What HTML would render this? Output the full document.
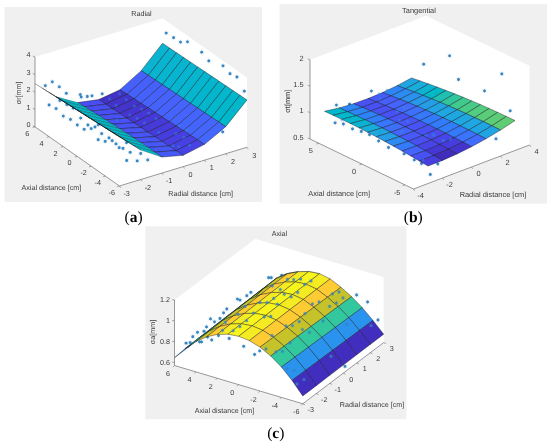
<!DOCTYPE html>
<html><head><meta charset="utf-8"><title>Figure</title>
<style>html,body{margin:0;padding:0;background:#fff}svg{display:block}text{text-rendering:geometricPrecision}</style></head>
<body>
<svg width="550" height="443" viewBox="0 0 550 443" font-family="Liberation Sans, Arial, sans-serif">
<defs><filter id="soft" x="0" y="0" width="100%" height="100%" color-interpolation-filters="sRGB"><feGaussianBlur stdDeviation="0.35"/></filter></defs>
<g filter="url(#soft)">
<rect x="-5" y="-5" width="560" height="453" fill="#fff"/>
<rect x="4.5" y="7" width="257.5" height="195" fill="#f0f0f0"/>
<rect x="279.6" y="4" width="267.4" height="199.6" fill="#f0f0f0"/>
<rect x="145.3" y="226.3" width="261.1" height="192.9" fill="#f0f0f0"/>
<polygon points="35,57 35,126.8 119.48,185.96 246.98,147.26 246.98,77.46 162.5,18.3" fill="#fff"/>
<g opacity="1"><path d="M45.3 83.7L45.3 87.7M47.03 84.7L43.57 86.7M47.03 86.7L43.57 84.7M52.3 79.8L52.3 83.8M54.03 80.8L50.57 82.8M54.03 82.8L50.57 80.8M59.3 84.8L59.3 88.8M61.03 85.8L57.57 87.8M61.03 87.8L57.57 85.8M66.3 91.3L66.3 95.3M68.03 92.3L64.57 94.3M68.03 94.3L64.57 92.3M80.3 92.6L80.3 96.6M82.03 93.6L78.57 95.6M82.03 95.6L78.57 93.6M81.2 95.1L81.2 99.1M82.93 96.1L79.47 98.1M82.93 98.1L79.47 96.1M87.3 94.5L87.3 98.5M89.03 95.5L85.57 97.5M89.03 97.5L85.57 95.5M92 93.8L92 97.8M93.73 94.8L90.27 96.8M93.73 96.8L90.27 94.8M102.2 91.8L102.2 95.8M103.93 92.8L100.47 94.8M103.93 94.8L100.47 92.8M49.1 103L49.1 107M50.83 104L47.37 106M50.83 106L47.37 104M56.1 106.6L56.1 110.6M57.83 107.6L54.37 109.6M57.83 109.6L54.37 107.6M59.9 98.5L59.9 102.5M61.63 99.5L58.17 101.5M61.63 101.5L58.17 99.5M66.9 102.6L66.9 106.6M68.63 103.6L65.17 105.6M68.63 105.6L65.17 103.6M73.3 106.2L73.3 110.2M75.03 107.2L71.57 109.2M75.03 109.2L71.57 107.2M63.3 114.1L63.3 118.1M65.03 115.1L61.57 117.1M65.03 117.1L61.57 115.1M70.5 117.4L70.5 121.4M72.23 118.4L68.77 120.4M72.23 120.4L68.77 118.4M80.7 116.1L80.7 120.1M82.43 117.1L78.97 119.1M82.43 119.1L78.97 117.1M77.3 123L77.3 127M79.03 124L75.57 126M79.03 126L75.57 124M87.9 123L87.9 127M89.63 124L86.17 126M89.63 126L86.17 124M84.2 127.3L84.2 131.3M85.93 128.3L82.47 130.3M85.93 130.3L82.47 128.3M91.2 126.6L91.2 130.6M92.93 127.6L89.47 129.6M92.93 129.6L89.47 127.6M95 125L95 129M96.73 126L93.27 128M96.73 128L93.27 126M98.2 122.8L98.2 126.8M99.93 123.8L96.47 125.8M99.93 125.8L96.47 123.8M101.7 131.7L101.7 135.7M103.43 132.7L99.97 134.7M103.43 134.7L99.97 132.7M98.2 137.7L98.2 141.7M99.93 138.7L96.47 140.7M99.93 140.7L96.47 138.7M105.2 139.4L105.2 143.4M106.93 140.4L103.47 142.4M106.93 142.4L103.47 140.4M109 135.9L109 139.9M110.73 136.9L107.27 138.9M110.73 138.9L107.27 136.9M112.2 138.7L112.2 142.7M113.93 139.7L110.47 141.7M113.93 141.7L110.47 139.7M116 141.9L116 145.9M117.73 142.9L114.27 144.9M117.73 144.9L114.27 142.9M119.2 145.7L119.2 149.7M120.93 146.7L117.47 148.7M120.93 148.7L117.47 146.7M123 146.4L123 150.4M124.73 147.4L121.27 149.4M124.73 149.4L121.27 147.4M130.2 150.3L130.2 154.3M131.93 151.3L128.47 153.3M131.93 153.3L128.47 151.3M126.7 158.5L126.7 162.5M128.43 159.5L124.97 161.5M128.43 161.5L124.97 159.5M137.2 158.9L137.2 162.9M138.93 159.9L135.47 161.9M138.93 161.9L135.47 159.9M147.7 157.9L147.7 161.9M149.43 158.9L145.97 160.9M149.43 160.9L145.97 158.9M140.7 151.5L140.7 155.5M142.43 152.5L138.97 154.5M142.43 154.5L138.97 152.5M126.5 140.7L126.5 144.7M128.23 141.7L124.77 143.7M128.23 143.7L124.77 141.7M166.2 31.1L166.2 35.1M167.93 32.1L164.47 34.1M167.93 34.1L164.47 32.1M173.6 35.7L173.6 39.7M175.33 36.7L171.87 38.7M175.33 38.7L171.87 36.7M180.5 40.1L180.5 44.1M182.23 41.1L178.77 43.1M182.23 43.1L178.77 41.1M187.5 39.8L187.5 43.8M189.23 40.8L185.77 42.8M189.23 42.8L185.77 40.8M201.7 50.2L201.7 54.2M203.43 51.2L199.97 53.2M203.43 53.2L199.97 51.2M208.8 58.9L208.8 62.9M210.53 59.9L207.07 61.9M210.53 61.9L207.07 59.9M223 63.8L223 67.8M224.73 64.8L221.27 66.8M224.73 66.8L221.27 64.8M230 71.7L230 75.7M231.73 72.7L228.27 74.7M231.73 74.7L228.27 72.7M236.9 75L236.9 79M238.63 76L235.17 78M238.63 78L235.17 76M244.3 89.2L244.3 93.2M246.03 90.2L242.57 92.2M246.03 92.2L242.57 90.2M222.7 129.9L222.7 133.9M224.43 130.9L220.97 132.9M224.43 132.9L220.97 130.9" stroke="#3583bf" stroke-width="0.7" fill="none" stroke-linecap="round" opacity="0.42"/><g fill="#3583bf"><circle cx="45.3" cy="85.7" r="1.4"/><circle cx="52.3" cy="81.8" r="1.4"/><circle cx="59.3" cy="86.8" r="1.4"/><circle cx="66.3" cy="93.3" r="1.4"/><circle cx="80.3" cy="94.6" r="1.4"/><circle cx="81.2" cy="97.1" r="1.4"/><circle cx="87.3" cy="96.5" r="1.4"/><circle cx="92" cy="95.8" r="1.4"/><circle cx="102.2" cy="93.8" r="1.4"/><circle cx="49.1" cy="105" r="1.4"/><circle cx="56.1" cy="108.6" r="1.4"/><circle cx="59.9" cy="100.5" r="1.4"/><circle cx="66.9" cy="104.6" r="1.4"/><circle cx="73.3" cy="108.2" r="1.4"/><circle cx="63.3" cy="116.1" r="1.4"/><circle cx="70.5" cy="119.4" r="1.4"/><circle cx="80.7" cy="118.1" r="1.4"/><circle cx="77.3" cy="125" r="1.4"/><circle cx="87.9" cy="125" r="1.4"/><circle cx="84.2" cy="129.3" r="1.4"/><circle cx="91.2" cy="128.6" r="1.4"/><circle cx="95" cy="127" r="1.4"/><circle cx="98.2" cy="124.8" r="1.4"/><circle cx="101.7" cy="133.7" r="1.4"/><circle cx="98.2" cy="139.7" r="1.4"/><circle cx="105.2" cy="141.4" r="1.4"/><circle cx="109" cy="137.9" r="1.4"/><circle cx="112.2" cy="140.7" r="1.4"/><circle cx="116" cy="143.9" r="1.4"/><circle cx="119.2" cy="147.7" r="1.4"/><circle cx="123" cy="148.4" r="1.4"/><circle cx="130.2" cy="152.3" r="1.4"/><circle cx="126.7" cy="160.5" r="1.4"/><circle cx="137.2" cy="160.9" r="1.4"/><circle cx="147.7" cy="159.9" r="1.4"/><circle cx="140.7" cy="153.5" r="1.4"/><circle cx="126.5" cy="142.7" r="1.4"/><circle cx="166.2" cy="33.1" r="1.4"/><circle cx="173.6" cy="37.7" r="1.4"/><circle cx="180.5" cy="42.1" r="1.4"/><circle cx="187.5" cy="41.8" r="1.4"/><circle cx="201.7" cy="52.2" r="1.4"/><circle cx="208.8" cy="60.9" r="1.4"/><circle cx="223" cy="65.8" r="1.4"/><circle cx="230" cy="73.7" r="1.4"/><circle cx="236.9" cy="77" r="1.4"/><circle cx="244.3" cy="91.2" r="1.4"/><circle cx="222.7" cy="131.9" r="1.4"/></g></g>
<g>
<polygon points="148.29,75.31 141.25,70.64 162.5,43.25 169.54,47.98" fill="#0ab4d1" stroke="#0a0a14" stroke-width="0.45" stroke-opacity="0.88" stroke-linejoin="round"/>
<polygon points="127.04,94.22 120,89.66 141.25,70.64 148.29,75.31" fill="#4660fb" stroke="#0a0a14" stroke-width="0.45" stroke-opacity="0.88" stroke-linejoin="round"/>
<polygon points="105.79,104.24 98.75,99.6 120,89.66 127.04,94.22" fill="#4331c7" stroke="#0a0a14" stroke-width="0.45" stroke-opacity="0.88" stroke-linejoin="round"/>
<polygon points="84.54,106.77 77.5,102.56 98.75,99.6 105.79,104.24" fill="#484ef1" stroke="#0a0a14" stroke-width="0.45" stroke-opacity="0.88" stroke-linejoin="round"/>
<polygon points="63.29,101.23 56.25,96.79 77.5,102.56 84.54,106.77" fill="#01b9c6" stroke="#0a0a14" stroke-width="0.3" stroke-opacity="0.88" stroke-linejoin="round"/>
<polygon points="42.04,88.05 35,83.61 56.25,96.79 63.29,101.23" fill="#1a2a2a" stroke="#0a0a14" stroke-width="0.2" stroke-opacity="0.88" stroke-linejoin="round"/>
<polygon points="155.33,79.98 148.29,75.31 169.54,47.98 176.58,52.71" fill="#09b4d1" stroke="#0a0a14" stroke-width="0.45" stroke-opacity="0.88" stroke-linejoin="round"/>
<polygon points="134.08,98.78 127.04,94.22 148.29,75.31 155.33,79.98" fill="#4660fc" stroke="#0a0a14" stroke-width="0.45" stroke-opacity="0.88" stroke-linejoin="round"/>
<polygon points="112.83,108.88 105.79,104.24 127.04,94.22 134.08,98.78" fill="#4332cb" stroke="#0a0a14" stroke-width="0.45" stroke-opacity="0.88" stroke-linejoin="round"/>
<polygon points="91.58,111.05 84.54,106.77 105.79,104.24 112.83,108.88" fill="#484ff2" stroke="#0a0a14" stroke-width="0.45" stroke-opacity="0.88" stroke-linejoin="round"/>
<polygon points="70.33,105.66 63.29,101.23 84.54,106.77 91.58,111.05" fill="#01b9c6" stroke="#0a0a14" stroke-width="0.3" stroke-opacity="0.88" stroke-linejoin="round"/>
<polygon points="49.08,92.48 42.04,88.05 63.29,101.23 70.33,105.66" fill="#1a2a2a" stroke="#0a0a14" stroke-width="0.2" stroke-opacity="0.88" stroke-linejoin="round"/>
<polygon points="162.37,84.65 155.33,79.98 176.58,52.71 183.62,57.43" fill="#08b5d0" stroke="#0a0a14" stroke-width="0.45" stroke-opacity="0.88" stroke-linejoin="round"/>
<polygon points="141.12,103.34 134.08,98.78 155.33,79.98 162.37,84.65" fill="#4561fc" stroke="#0a0a14" stroke-width="0.45" stroke-opacity="0.88" stroke-linejoin="round"/>
<polygon points="119.87,113.52 112.83,108.88 134.08,98.78 141.12,103.34" fill="#4434ce" stroke="#0a0a14" stroke-width="0.45" stroke-opacity="0.88" stroke-linejoin="round"/>
<polygon points="98.62,115.38 91.58,111.05 112.83,108.88 119.87,113.52" fill="#4850f3" stroke="#0a0a14" stroke-width="0.45" stroke-opacity="0.88" stroke-linejoin="round"/>
<polygon points="77.37,110.1 70.33,105.66 91.58,111.05 98.62,115.38" fill="#01b9c6" stroke="#0a0a14" stroke-width="0.3" stroke-opacity="0.88" stroke-linejoin="round"/>
<polygon points="56.12,96.92 49.08,92.48 70.33,105.66 77.37,110.1" fill="#1a2a2a" stroke="#0a0a14" stroke-width="0.2" stroke-opacity="0.88" stroke-linejoin="round"/>
<polygon points="169.41,89.32 162.37,84.65 183.62,57.43 190.66,62.16" fill="#07b5d0" stroke="#0a0a14" stroke-width="0.45" stroke-opacity="0.88" stroke-linejoin="round"/>
<polygon points="148.16,107.89 141.12,103.34 162.37,84.65 169.41,89.32" fill="#4562fc" stroke="#0a0a14" stroke-width="0.45" stroke-opacity="0.88" stroke-linejoin="round"/>
<polygon points="126.91,118.15 119.87,113.52 141.12,103.34 148.16,107.89" fill="#4435d1" stroke="#0a0a14" stroke-width="0.45" stroke-opacity="0.88" stroke-linejoin="round"/>
<polygon points="105.66,119.78 98.62,115.38 119.87,113.52 126.91,118.15" fill="#4851f3" stroke="#0a0a14" stroke-width="0.45" stroke-opacity="0.88" stroke-linejoin="round"/>
<polygon points="84.41,114.53 77.37,110.1 98.62,115.38 105.66,119.78" fill="#01b9c6" stroke="#0a0a14" stroke-width="0.3" stroke-opacity="0.88" stroke-linejoin="round"/>
<polygon points="63.16,101.35 56.12,96.92 77.37,110.1 84.41,114.53" fill="#1a2a2a" stroke="#0a0a14" stroke-width="0.2" stroke-opacity="0.88" stroke-linejoin="round"/>
<polygon points="176.45,93.98 169.41,89.32 190.66,62.16 197.7,66.89" fill="#06b5cf" stroke="#0a0a14" stroke-width="0.45" stroke-opacity="0.88" stroke-linejoin="round"/>
<polygon points="155.2,112.45 148.16,107.89 169.41,89.32 176.45,93.98" fill="#4562fc" stroke="#0a0a14" stroke-width="0.45" stroke-opacity="0.88" stroke-linejoin="round"/>
<polygon points="133.95,122.79 126.91,118.15 148.16,107.89 155.2,112.45" fill="#4536d5" stroke="#0a0a14" stroke-width="0.45" stroke-opacity="0.88" stroke-linejoin="round"/>
<polygon points="112.7,124.23 105.66,119.78 126.91,118.15 133.95,122.79" fill="#4852f4" stroke="#0a0a14" stroke-width="0.45" stroke-opacity="0.88" stroke-linejoin="round"/>
<polygon points="91.45,118.97 84.41,114.53 105.66,119.78 112.7,124.23" fill="#01b9c6" stroke="#0a0a14" stroke-width="0.3" stroke-opacity="0.88" stroke-linejoin="round"/>
<polygon points="70.2,105.79 63.16,101.35 84.41,114.53 91.45,118.97" fill="#1a2a2a" stroke="#0a0a14" stroke-width="0.2" stroke-opacity="0.88" stroke-linejoin="round"/>
<polygon points="183.49,98.65 176.45,93.98 197.7,66.89 204.74,71.61" fill="#06b6ce" stroke="#0a0a14" stroke-width="0.45" stroke-opacity="0.88" stroke-linejoin="round"/>
<polygon points="162.24,117.01 155.2,112.45 176.45,93.98 183.49,98.65" fill="#4563fc" stroke="#0a0a14" stroke-width="0.45" stroke-opacity="0.88" stroke-linejoin="round"/>
<polygon points="140.99,127.43 133.95,122.79 155.2,112.45 162.24,117.01" fill="#4538d8" stroke="#0a0a14" stroke-width="0.45" stroke-opacity="0.88" stroke-linejoin="round"/>
<polygon points="119.74,128.73 112.7,124.23 133.95,122.79 140.99,127.43" fill="#4853f4" stroke="#0a0a14" stroke-width="0.45" stroke-opacity="0.88" stroke-linejoin="round"/>
<polygon points="98.49,123.41 91.45,118.97 112.7,124.23 119.74,128.73" fill="#01b9c6" stroke="#0a0a14" stroke-width="0.3" stroke-opacity="0.88" stroke-linejoin="round"/>
<polygon points="77.24,110.22 70.2,105.79 91.45,118.97 98.49,123.41" fill="#1a2a2a" stroke="#0a0a14" stroke-width="0.2" stroke-opacity="0.88" stroke-linejoin="round"/>
<polygon points="190.53,103.32 183.49,98.65 204.74,71.61 211.78,76.34" fill="#05b6ce" stroke="#0a0a14" stroke-width="0.45" stroke-opacity="0.88" stroke-linejoin="round"/>
<polygon points="169.28,121.57 162.24,117.01 183.49,98.65 190.53,103.32" fill="#4563fd" stroke="#0a0a14" stroke-width="0.45" stroke-opacity="0.88" stroke-linejoin="round"/>
<polygon points="148.03,132.07 140.99,127.43 162.24,117.01 169.28,121.57" fill="#463ada" stroke="#0a0a14" stroke-width="0.45" stroke-opacity="0.88" stroke-linejoin="round"/>
<polygon points="126.78,133.3 119.74,128.73 140.99,127.43 148.03,132.07" fill="#4854f5" stroke="#0a0a14" stroke-width="0.45" stroke-opacity="0.88" stroke-linejoin="round"/>
<polygon points="105.53,127.84 98.49,123.41 119.74,128.73 126.78,133.3" fill="#01b9c6" stroke="#0a0a14" stroke-width="0.3" stroke-opacity="0.88" stroke-linejoin="round"/>
<polygon points="84.28,114.66 77.24,110.22 98.49,123.41 105.53,127.84" fill="#1a2a2a" stroke="#0a0a14" stroke-width="0.2" stroke-opacity="0.88" stroke-linejoin="round"/>
<polygon points="197.57,107.99 190.53,103.32 211.78,76.34 218.82,81.06" fill="#04b6cd" stroke="#0a0a14" stroke-width="0.45" stroke-opacity="0.88" stroke-linejoin="round"/>
<polygon points="176.32,126.13 169.28,121.57 190.53,103.32 197.57,107.99" fill="#4564fd" stroke="#0a0a14" stroke-width="0.45" stroke-opacity="0.88" stroke-linejoin="round"/>
<polygon points="155.07,136.71 148.03,132.07 169.28,121.57 176.32,126.13" fill="#463bdd" stroke="#0a0a14" stroke-width="0.45" stroke-opacity="0.88" stroke-linejoin="round"/>
<polygon points="133.82,137.93 126.78,133.3 148.03,132.07 155.07,136.71" fill="#4854f6" stroke="#0a0a14" stroke-width="0.45" stroke-opacity="0.88" stroke-linejoin="round"/>
<polygon points="112.57,132.28 105.53,127.84 126.78,133.3 133.82,137.93" fill="#01b9c6" stroke="#0a0a14" stroke-width="0.3" stroke-opacity="0.88" stroke-linejoin="round"/>
<polygon points="91.32,119.1 84.28,114.66 105.53,127.84 112.57,132.28" fill="#1a2a2a" stroke="#0a0a14" stroke-width="0.2" stroke-opacity="0.88" stroke-linejoin="round"/>
<polygon points="204.61,112.66 197.57,107.99 218.82,81.06 225.86,85.79" fill="#03b6cc" stroke="#0a0a14" stroke-width="0.45" stroke-opacity="0.88" stroke-linejoin="round"/>
<polygon points="183.36,130.69 176.32,126.13 197.57,107.99 204.61,112.66" fill="#4465fd" stroke="#0a0a14" stroke-width="0.45" stroke-opacity="0.88" stroke-linejoin="round"/>
<polygon points="162.11,141.35 155.07,136.71 176.32,126.13 183.36,130.69" fill="#463de0" stroke="#0a0a14" stroke-width="0.45" stroke-opacity="0.88" stroke-linejoin="round"/>
<polygon points="140.86,142.61 133.82,137.93 155.07,136.71 162.11,141.35" fill="#4755f6" stroke="#0a0a14" stroke-width="0.45" stroke-opacity="0.88" stroke-linejoin="round"/>
<polygon points="119.61,136.71 112.57,132.28 133.82,137.93 140.86,142.61" fill="#01b9c6" stroke="#0a0a14" stroke-width="0.3" stroke-opacity="0.88" stroke-linejoin="round"/>
<polygon points="98.36,123.53 91.32,119.1 112.57,132.28 119.61,136.71" fill="#1a2a2a" stroke="#0a0a14" stroke-width="0.2" stroke-opacity="0.88" stroke-linejoin="round"/>
<polygon points="211.65,117.33 204.61,112.66 225.86,85.79 232.9,90.52" fill="#03b7cc" stroke="#0a0a14" stroke-width="0.45" stroke-opacity="0.88" stroke-linejoin="round"/>
<polygon points="190.4,135.25 183.36,130.69 204.61,112.66 211.65,117.33" fill="#4465fd" stroke="#0a0a14" stroke-width="0.45" stroke-opacity="0.88" stroke-linejoin="round"/>
<polygon points="169.15,145.99 162.11,141.35 183.36,130.69 190.4,135.25" fill="#473fe2" stroke="#0a0a14" stroke-width="0.45" stroke-opacity="0.88" stroke-linejoin="round"/>
<polygon points="147.9,147.35 140.86,142.61 162.11,141.35 169.15,145.99" fill="#4756f7" stroke="#0a0a14" stroke-width="0.45" stroke-opacity="0.88" stroke-linejoin="round"/>
<polygon points="126.65,141.15 119.61,136.71 140.86,142.61 147.9,147.35" fill="#01b9c6" stroke="#0a0a14" stroke-width="0.3" stroke-opacity="0.88" stroke-linejoin="round"/>
<polygon points="105.4,127.97 98.36,123.53 119.61,136.71 126.65,141.15" fill="#1a2a2a" stroke="#0a0a14" stroke-width="0.2" stroke-opacity="0.88" stroke-linejoin="round"/>
<polygon points="218.69,121.99 211.65,117.33 232.9,90.52 239.94,95.24" fill="#02b7cb" stroke="#0a0a14" stroke-width="0.45" stroke-opacity="0.88" stroke-linejoin="round"/>
<polygon points="197.44,139.81 190.4,135.25 211.65,117.33 218.69,121.99" fill="#4466fd" stroke="#0a0a14" stroke-width="0.45" stroke-opacity="0.88" stroke-linejoin="round"/>
<polygon points="176.19,150.63 169.15,145.99 190.4,135.25 197.44,139.81" fill="#4740e4" stroke="#0a0a14" stroke-width="0.45" stroke-opacity="0.88" stroke-linejoin="round"/>
<polygon points="154.94,152.15 147.9,147.35 169.15,145.99 176.19,150.63" fill="#4757f7" stroke="#0a0a14" stroke-width="0.45" stroke-opacity="0.88" stroke-linejoin="round"/>
<polygon points="133.69,145.58 126.65,141.15 147.9,147.35 154.94,152.15" fill="#01b9c6" stroke="#0a0a14" stroke-width="0.3" stroke-opacity="0.88" stroke-linejoin="round"/>
<polygon points="112.44,132.4 105.4,127.97 126.65,141.15 133.69,145.58" fill="#1a2a2a" stroke="#0a0a14" stroke-width="0.2" stroke-opacity="0.88" stroke-linejoin="round"/>
<polygon points="225.73,126.66 218.69,121.99 239.94,95.24 246.98,99.97" fill="#01b7ca" stroke="#0a0a14" stroke-width="0.45" stroke-opacity="0.88" stroke-linejoin="round"/>
<polygon points="204.48,144.37 197.44,139.81 218.69,121.99 225.73,126.66" fill="#4366fd" stroke="#0a0a14" stroke-width="0.45" stroke-opacity="0.88" stroke-linejoin="round"/>
<polygon points="183.23,155.27 176.19,150.63 197.44,139.81 204.48,144.37" fill="#4742e6" stroke="#0a0a14" stroke-width="0.45" stroke-opacity="0.88" stroke-linejoin="round"/>
<polygon points="161.98,157.01 154.94,152.15 176.19,150.63 183.23,155.27" fill="#4758f8" stroke="#0a0a14" stroke-width="0.45" stroke-opacity="0.88" stroke-linejoin="round"/>
<polygon points="140.73,150.02 133.69,145.58 154.94,152.15 161.98,157.01" fill="#01b9c6" stroke="#0a0a14" stroke-width="0.3" stroke-opacity="0.88" stroke-linejoin="round"/>
<polygon points="119.48,136.84 112.44,132.4 133.69,145.58 140.73,150.02" fill="#1a2a2a" stroke="#0a0a14" stroke-width="0.2" stroke-opacity="0.88" stroke-linejoin="round"/>
</g>
<g opacity="0.45"><path d="M109.5 96.9L109.5 100.9M111.23 97.9L107.77 99.9M111.23 99.9L107.77 97.9M119.6 91.8L119.6 95.8M121.33 92.8L117.87 94.8M121.33 94.8L117.87 92.8M126.2 97.6L126.2 101.6M127.93 98.6L124.47 100.6M127.93 100.6L124.47 98.6M116 103.5L116 107.5M117.73 104.5L114.27 106.5M117.73 106.5L114.27 104.5M134.2 104.2L134.2 108.2M135.93 105.2L132.47 107.2M135.93 107.2L132.47 105.2M141.5 107.1L141.5 111.1M143.23 108.1L139.77 110.1M143.23 110.1L139.77 108.1M148.7 111.2L148.7 115.2M150.43 112.2L146.97 114.2M150.43 114.2L146.97 112.2M129.8 112.9L129.8 116.9M131.53 113.9L128.07 115.9M131.53 115.9L128.07 113.9M137.1 116.5L137.1 120.5M138.83 117.5L135.37 119.5M138.83 119.5L135.37 117.5M156 116.5L156 120.5M157.73 117.5L154.27 119.5M157.73 119.5L154.27 117.5M144.4 120.9L144.4 124.9M146.13 121.9L142.67 123.9M146.13 123.9L142.67 121.9M158.9 130.4L158.9 134.4M160.63 131.4L157.17 133.4M160.63 133.4L157.17 131.4M116.7 118L116.7 122M118.43 119L114.97 121M118.43 121L114.97 119M232.8 108.4L232.8 112.4M234.53 109.4L231.07 111.4M234.53 111.4L231.07 109.4M179.9 123.6L179.9 127.6M181.63 124.6L178.17 126.6M181.63 126.6L178.17 124.6M186.7 128L186.7 132M188.43 129L184.97 131M188.43 131L184.97 129M175.8 131.6L175.8 135.6M177.53 132.6L174.07 134.6M177.53 134.6L174.07 132.6M183.8 135.3L183.8 139.3M185.53 136.3L182.07 138.3M185.53 138.3L182.07 136.3M189.6 143.3L189.6 147.3M191.33 144.3L187.87 146.3M191.33 146.3L187.87 144.3M178.7 144.7L178.7 148.7M180.43 145.7L176.97 147.7M180.43 147.7L176.97 145.7M172.9 144L172.9 148M174.63 145L171.17 147M174.63 147L171.17 145" stroke="#2f8fd8" stroke-width="0.7" fill="none" stroke-linecap="round" opacity="0.3"/><g fill="#2f8fd8"><circle cx="109.5" cy="98.9" r="1.4"/><circle cx="119.6" cy="93.8" r="1.4"/><circle cx="126.2" cy="99.6" r="1.4"/><circle cx="116" cy="105.5" r="1.4"/><circle cx="134.2" cy="106.2" r="1.4"/><circle cx="141.5" cy="109.1" r="1.4"/><circle cx="148.7" cy="113.2" r="1.4"/><circle cx="129.8" cy="114.9" r="1.4"/><circle cx="137.1" cy="118.5" r="1.4"/><circle cx="156" cy="118.5" r="1.4"/><circle cx="144.4" cy="122.9" r="1.4"/><circle cx="158.9" cy="132.4" r="1.4"/><circle cx="116.7" cy="120" r="1.4"/><circle cx="232.8" cy="110.4" r="1.4"/><circle cx="179.9" cy="125.6" r="1.4"/><circle cx="186.7" cy="130" r="1.4"/><circle cx="175.8" cy="133.6" r="1.4"/><circle cx="183.8" cy="137.3" r="1.4"/><circle cx="189.6" cy="145.3" r="1.4"/><circle cx="178.7" cy="146.7" r="1.4"/><circle cx="172.9" cy="146" r="1.4"/></g></g>
<line x1="35" y1="57" x2="35" y2="126.8" stroke="#6e6e6e" stroke-width="0.7"/>
<line x1="35" y1="126.8" x2="119.48" y2="185.96" stroke="#6e6e6e" stroke-width="0.7"/>
<line x1="119.48" y1="185.96" x2="246.98" y2="147.26" stroke="#6e6e6e" stroke-width="0.7"/>
<line x1="35" y1="126.8" x2="32.8" y2="125.8" stroke="#6e6e6e" stroke-width="0.6"/>
<text x="30.5" y="127.1" font-size="7.2" text-anchor="end" fill="#3a3a3a" >0</text>
<line x1="35" y1="109.35" x2="32.8" y2="108.35" stroke="#6e6e6e" stroke-width="0.6"/>
<text x="30.5" y="109.65" font-size="7.2" text-anchor="end" fill="#3a3a3a" >1</text>
<line x1="35" y1="91.9" x2="32.8" y2="90.9" stroke="#6e6e6e" stroke-width="0.6"/>
<text x="30.5" y="92.2" font-size="7.2" text-anchor="end" fill="#3a3a3a" >2</text>
<line x1="35" y1="74.45" x2="32.8" y2="73.45" stroke="#6e6e6e" stroke-width="0.6"/>
<text x="30.5" y="74.75" font-size="7.2" text-anchor="end" fill="#3a3a3a" >3</text>
<line x1="35" y1="57" x2="32.8" y2="56" stroke="#6e6e6e" stroke-width="0.6"/>
<text x="30.5" y="57.3" font-size="7.2" text-anchor="end" fill="#3a3a3a" >4</text>
<line x1="119.48" y1="185.96" x2="117.18" y2="186.66" stroke="#6e6e6e" stroke-width="0.6"/>
<text x="111.78" y="194.96" font-size="7.2" text-anchor="middle" fill="#3a3a3a" >-6</text>
<line x1="105.4" y1="176.1" x2="103.1" y2="176.8" stroke="#6e6e6e" stroke-width="0.6"/>
<text x="97.7" y="185.1" font-size="7.2" text-anchor="middle" fill="#3a3a3a" >-4</text>
<line x1="91.32" y1="166.24" x2="89.02" y2="166.94" stroke="#6e6e6e" stroke-width="0.6"/>
<text x="83.62" y="175.24" font-size="7.2" text-anchor="middle" fill="#3a3a3a" >-2</text>
<line x1="77.24" y1="156.38" x2="74.94" y2="157.08" stroke="#6e6e6e" stroke-width="0.6"/>
<text x="69.54" y="165.38" font-size="7.2" text-anchor="middle" fill="#3a3a3a" >0</text>
<line x1="63.16" y1="146.52" x2="60.86" y2="147.22" stroke="#6e6e6e" stroke-width="0.6"/>
<text x="55.46" y="155.52" font-size="7.2" text-anchor="middle" fill="#3a3a3a" >2</text>
<line x1="49.08" y1="136.66" x2="46.78" y2="137.36" stroke="#6e6e6e" stroke-width="0.6"/>
<text x="41.38" y="145.66" font-size="7.2" text-anchor="middle" fill="#3a3a3a" >4</text>
<line x1="35" y1="126.8" x2="32.7" y2="127.5" stroke="#6e6e6e" stroke-width="0.6"/>
<text x="27.3" y="135.8" font-size="7.2" text-anchor="middle" fill="#3a3a3a" >6</text>
<line x1="119.48" y1="185.96" x2="120.78" y2="187.76" stroke="#6e6e6e" stroke-width="0.6"/>
<text x="126.68" y="196.26" font-size="7.2" text-anchor="middle" fill="#3a3a3a" >-3</text>
<line x1="140.73" y1="179.51" x2="142.03" y2="181.31" stroke="#6e6e6e" stroke-width="0.6"/>
<text x="147.93" y="189.81" font-size="7.2" text-anchor="middle" fill="#3a3a3a" >-2</text>
<line x1="161.98" y1="173.06" x2="163.28" y2="174.86" stroke="#6e6e6e" stroke-width="0.6"/>
<text x="169.18" y="183.36" font-size="7.2" text-anchor="middle" fill="#3a3a3a" >-1</text>
<line x1="183.23" y1="166.61" x2="184.53" y2="168.41" stroke="#6e6e6e" stroke-width="0.6"/>
<text x="190.43" y="176.91" font-size="7.2" text-anchor="middle" fill="#3a3a3a" >0</text>
<line x1="204.48" y1="160.16" x2="205.78" y2="161.96" stroke="#6e6e6e" stroke-width="0.6"/>
<text x="211.68" y="170.46" font-size="7.2" text-anchor="middle" fill="#3a3a3a" >1</text>
<line x1="225.73" y1="153.71" x2="227.03" y2="155.51" stroke="#6e6e6e" stroke-width="0.6"/>
<text x="232.93" y="164.01" font-size="7.2" text-anchor="middle" fill="#3a3a3a" >2</text>
<line x1="246.98" y1="147.26" x2="248.28" y2="149.06" stroke="#6e6e6e" stroke-width="0.6"/>
<text x="254.18" y="157.56" font-size="7.2" text-anchor="middle" fill="#3a3a3a" >3</text>
<text x="141.5" y="15.6" font-size="7.2" text-anchor="middle" fill="#3a3a3a" >Radial</text>
<text x="51.4" y="190.4" font-size="7.2" text-anchor="middle" fill="#3a3a3a" >Axial distance [cm]</text>
<text x="200.7" y="195.6" font-size="7.2" text-anchor="middle" fill="#3a3a3a" >Radial distance [cm]</text>
<text x="21.4" y="92.8" font-size="7.2" text-anchor="middle" fill="#3a3a3a" transform="rotate(-90 21.4 92.8)" >σr[mm]</text>
<polygon points="310,59.8 310,139 413.5,189 529.5,145 529.5,65.8 426,15.8" fill="#fff"/>
<g opacity="1"><path d="M371.4 89.1L371.4 93.1M373.13 90.1L369.67 92.1M373.13 92.1L369.67 90.1M336.4 103.1L336.4 107.1M338.13 104.1L334.67 106.1M338.13 106.1L334.67 104.1M349.6 102.2L349.6 106.2M351.33 103.2L347.87 105.2M351.33 105.2L347.87 103.2M335.1 120.8L335.1 124.8M336.83 121.8L333.37 123.8M336.83 123.8L333.37 121.8M343.4 122L343.4 126M345.13 123L341.67 125M345.13 125L341.67 123M352.5 126.9L352.5 130.9M354.23 127.9L350.77 129.9M354.23 129.9L350.77 127.9M361.3 129.5L361.3 133.5M363.03 130.5L359.57 132.5M363.03 132.5L359.57 130.5M369.5 132.7L369.5 136.7M371.23 133.7L367.77 135.7M371.23 135.7L367.77 133.7M378.6 139L378.6 143M380.33 140L376.87 142M380.33 142L376.87 140M388.5 145.5L388.5 149.5M390.23 146.5L386.77 148.5M390.23 148.5L386.77 146.5M404.1 151.8L404.1 155.8M405.83 152.8L402.37 154.8M405.83 154.8L402.37 152.8M414.3 157.9L414.3 161.9M416.03 158.9L412.57 160.9M416.03 160.9L412.57 158.9M421.5 161.5L421.5 165.5M423.23 162.5L419.77 164.5M423.23 164.5L419.77 162.5M437.8 162L437.8 166M439.53 163L436.07 165M439.53 165L436.07 163M430.3 172.5L430.3 176.5M432.03 173.5L428.57 175.5M432.03 175.5L428.57 173.5M423.7 62.2L423.7 66.2M425.43 63.2L421.97 65.2M425.43 65.2L421.97 63.2M449.6 53.8L449.6 57.8M451.33 54.8L447.87 56.8M451.33 56.8L447.87 54.8M458.5 77.5L458.5 81.5M460.23 78.5L456.77 80.5M460.23 80.5L456.77 78.5M484.5 88.9L484.5 92.9M486.23 89.9L482.77 91.9M486.23 91.9L482.77 89.9M501.8 71.9L501.8 75.9M503.53 72.9L500.07 74.9M503.53 74.9L500.07 72.9M510.2 108.8L510.2 112.8M511.93 109.8L508.47 111.8M511.93 111.8L508.47 109.8M496 136.8L496 140.8M497.73 137.8L494.27 139.8M497.73 139.8L494.27 137.8" stroke="#3583bf" stroke-width="0.7" fill="none" stroke-linecap="round" opacity="0.42"/><g fill="#3583bf"><circle cx="371.4" cy="91.1" r="1.4"/><circle cx="336.4" cy="105.1" r="1.4"/><circle cx="349.6" cy="104.2" r="1.4"/><circle cx="335.1" cy="122.8" r="1.4"/><circle cx="343.4" cy="124" r="1.4"/><circle cx="352.5" cy="128.9" r="1.4"/><circle cx="361.3" cy="131.5" r="1.4"/><circle cx="369.5" cy="134.7" r="1.4"/><circle cx="378.6" cy="141" r="1.4"/><circle cx="388.5" cy="147.5" r="1.4"/><circle cx="404.1" cy="153.8" r="1.4"/><circle cx="414.3" cy="159.9" r="1.4"/><circle cx="421.5" cy="163.5" r="1.4"/><circle cx="437.8" cy="164" r="1.4"/><circle cx="430.3" cy="174.5" r="1.4"/><circle cx="423.7" cy="64.2" r="1.4"/><circle cx="449.6" cy="55.8" r="1.4"/><circle cx="458.5" cy="79.5" r="1.4"/><circle cx="484.5" cy="90.9" r="1.4"/><circle cx="501.8" cy="73.9" r="1.4"/><circle cx="510.2" cy="110.8" r="1.4"/><circle cx="496" cy="138.8" r="1.4"/></g></g>
<polygon points="405.62,88.79 397,85.68 411.5,77.91 420.12,80.88" fill="#1fa5e2" stroke="#0a0a14" stroke-width="0.45" stroke-opacity="0.88" stroke-linejoin="round"/>
<polygon points="391.12,95.84 382.5,92.57 397,85.68 405.62,88.79" fill="#2e85f8" stroke="#0a0a14" stroke-width="0.45" stroke-opacity="0.88" stroke-linejoin="round"/>
<polygon points="376.62,102.01 368,98.57 382.5,92.57 391.12,95.84" fill="#475bf9" stroke="#0a0a14" stroke-width="0.45" stroke-opacity="0.88" stroke-linejoin="round"/>
<polygon points="362.12,107.3 353.5,103.7 368,98.57 376.62,102.01" fill="#4851f4" stroke="#0a0a14" stroke-width="0.45" stroke-opacity="0.88" stroke-linejoin="round"/>
<polygon points="347.62,111.72 339,107.93 353.5,103.7 362.12,107.3" fill="#2e87f7" stroke="#0a0a14" stroke-width="0.45" stroke-opacity="0.88" stroke-linejoin="round"/>
<polygon points="333.12,115.27 324.5,111.29 339,107.93 347.62,111.72" fill="#02b7cb" stroke="#0a0a14" stroke-width="0.45" stroke-opacity="0.88" stroke-linejoin="round"/>
<polygon points="414.25,92.02 405.62,88.79 420.12,80.88 428.75,83.96" fill="#19addc" stroke="#0a0a14" stroke-width="0.45" stroke-opacity="0.88" stroke-linejoin="round"/>
<polygon points="399.75,99.21 391.12,95.84 405.62,88.79 414.25,92.02" fill="#2d8cf3" stroke="#0a0a14" stroke-width="0.45" stroke-opacity="0.88" stroke-linejoin="round"/>
<polygon points="385.25,105.54 376.62,102.01 391.12,95.84 399.75,99.21" fill="#465ffb" stroke="#0a0a14" stroke-width="0.45" stroke-opacity="0.88" stroke-linejoin="round"/>
<polygon points="370.75,111.01 362.12,107.3 376.62,102.01 385.25,105.54" fill="#4851f4" stroke="#0a0a14" stroke-width="0.45" stroke-opacity="0.88" stroke-linejoin="round"/>
<polygon points="356.25,115.62 347.62,111.72 362.12,107.3 370.75,111.01" fill="#2e85f8" stroke="#0a0a14" stroke-width="0.45" stroke-opacity="0.88" stroke-linejoin="round"/>
<polygon points="341.75,119.36 333.12,115.27 347.62,111.72 356.25,115.62" fill="#03b7cc" stroke="#0a0a14" stroke-width="0.45" stroke-opacity="0.88" stroke-linejoin="round"/>
<polygon points="422.88,95.34 414.25,92.02 428.75,83.96 437.38,87.14" fill="#0cb3d3" stroke="#0a0a14" stroke-width="0.45" stroke-opacity="0.88" stroke-linejoin="round"/>
<polygon points="408.38,102.69 399.75,99.21 414.25,92.02 422.88,95.34" fill="#2a92ee" stroke="#0a0a14" stroke-width="0.45" stroke-opacity="0.88" stroke-linejoin="round"/>
<polygon points="393.88,109.19 385.25,105.54 399.75,99.21 408.38,102.69" fill="#4464fd" stroke="#0a0a14" stroke-width="0.45" stroke-opacity="0.88" stroke-linejoin="round"/>
<polygon points="379.38,114.83 370.75,111.01 385.25,105.54 393.88,109.19" fill="#4851f4" stroke="#0a0a14" stroke-width="0.45" stroke-opacity="0.88" stroke-linejoin="round"/>
<polygon points="364.88,119.62 356.25,115.62 370.75,111.01 379.38,114.83" fill="#2e83f9" stroke="#0a0a14" stroke-width="0.45" stroke-opacity="0.88" stroke-linejoin="round"/>
<polygon points="350.38,123.56 341.75,119.36 356.25,115.62 364.88,119.62" fill="#05b6cd" stroke="#0a0a14" stroke-width="0.45" stroke-opacity="0.88" stroke-linejoin="round"/>
<polygon points="431.5,98.77 422.88,95.34 437.38,87.14 446,90.43" fill="#01bac5" stroke="#0a0a14" stroke-width="0.45" stroke-opacity="0.88" stroke-linejoin="round"/>
<polygon points="417,106.28 408.38,102.69 422.88,95.34 431.5,98.77" fill="#2699ea" stroke="#0a0a14" stroke-width="0.45" stroke-opacity="0.88" stroke-linejoin="round"/>
<polygon points="402.5,112.94 393.88,109.19 408.38,102.69 417,106.28" fill="#426afe" stroke="#0a0a14" stroke-width="0.45" stroke-opacity="0.88" stroke-linejoin="round"/>
<polygon points="388,118.75 379.38,114.83 393.88,109.19 402.5,112.94" fill="#4852f4" stroke="#0a0a14" stroke-width="0.45" stroke-opacity="0.88" stroke-linejoin="round"/>
<polygon points="373.5,123.73 364.88,119.62 379.38,114.83 388,118.75" fill="#317efb" stroke="#0a0a14" stroke-width="0.45" stroke-opacity="0.88" stroke-linejoin="round"/>
<polygon points="359,127.87 350.38,123.56 364.88,119.62 373.5,123.73" fill="#0bb3d2" stroke="#0a0a14" stroke-width="0.45" stroke-opacity="0.88" stroke-linejoin="round"/>
<polygon points="440.12,102.31 431.5,98.77 446,90.43 454.62,93.83" fill="#1ec0b2" stroke="#0a0a14" stroke-width="0.45" stroke-opacity="0.88" stroke-linejoin="round"/>
<polygon points="425.62,109.97 417,106.28 431.5,98.77 440.12,102.31" fill="#249fe6" stroke="#0a0a14" stroke-width="0.45" stroke-opacity="0.88" stroke-linejoin="round"/>
<polygon points="411.12,116.79 402.5,112.94 417,106.28 425.62,109.97" fill="#3d70ff" stroke="#0a0a14" stroke-width="0.45" stroke-opacity="0.88" stroke-linejoin="round"/>
<polygon points="396.62,122.78 388,118.75 402.5,112.94 411.12,116.79" fill="#4853f5" stroke="#0a0a14" stroke-width="0.45" stroke-opacity="0.88" stroke-linejoin="round"/>
<polygon points="382.12,127.94 373.5,123.73 388,118.75 396.62,122.78" fill="#3876fe" stroke="#0a0a14" stroke-width="0.45" stroke-opacity="0.88" stroke-linejoin="round"/>
<polygon points="367.62,132.27 359,127.87 373.5,123.73 382.12,127.94" fill="#17aeda" stroke="#0a0a14" stroke-width="0.45" stroke-opacity="0.88" stroke-linejoin="round"/>
<polygon points="448.75,105.95 440.12,102.31 454.62,93.83 463.25,97.33" fill="#32c69e" stroke="#0a0a14" stroke-width="0.45" stroke-opacity="0.88" stroke-linejoin="round"/>
<polygon points="434.25,113.76 425.62,109.97 440.12,102.31 448.75,105.95" fill="#20a4e3" stroke="#0a0a14" stroke-width="0.45" stroke-opacity="0.88" stroke-linejoin="round"/>
<polygon points="419.75,120.75 411.12,116.79 425.62,109.97 434.25,113.76" fill="#3777fe" stroke="#0a0a14" stroke-width="0.45" stroke-opacity="0.88" stroke-linejoin="round"/>
<polygon points="405.25,126.92 396.62,122.78 411.12,116.79 419.75,120.75" fill="#4854f5" stroke="#0a0a14" stroke-width="0.45" stroke-opacity="0.88" stroke-linejoin="round"/>
<polygon points="390.75,132.26 382.12,127.94 396.62,122.78 405.25,126.92" fill="#3f6eff" stroke="#0a0a14" stroke-width="0.45" stroke-opacity="0.88" stroke-linejoin="round"/>
<polygon points="376.25,136.79 367.62,132.27 382.12,127.94 390.75,132.26" fill="#1ea8e0" stroke="#0a0a14" stroke-width="0.45" stroke-opacity="0.88" stroke-linejoin="round"/>
<polygon points="457.38,109.7 448.75,105.95 463.25,97.33 471.88,100.93" fill="#3fca8e" stroke="#0a0a14" stroke-width="0.45" stroke-opacity="0.88" stroke-linejoin="round"/>
<polygon points="442.88,117.66 434.25,113.76 448.75,105.95 457.38,109.7" fill="#1ea7e1" stroke="#0a0a14" stroke-width="0.45" stroke-opacity="0.88" stroke-linejoin="round"/>
<polygon points="428.38,124.82 419.75,120.75 434.25,113.76 442.88,117.66" fill="#337bfd" stroke="#0a0a14" stroke-width="0.45" stroke-opacity="0.88" stroke-linejoin="round"/>
<polygon points="413.88,131.16 405.25,126.92 419.75,120.75 428.38,124.82" fill="#4853f5" stroke="#0a0a14" stroke-width="0.45" stroke-opacity="0.88" stroke-linejoin="round"/>
<polygon points="399.38,136.69 390.75,132.26 405.25,126.92 413.88,131.16" fill="#4465fd" stroke="#0a0a14" stroke-width="0.45" stroke-opacity="0.88" stroke-linejoin="round"/>
<polygon points="384.88,141.41 376.25,136.79 390.75,132.26 399.38,136.69" fill="#259de7" stroke="#0a0a14" stroke-width="0.45" stroke-opacity="0.88" stroke-linejoin="round"/>
<polygon points="466,113.56 457.38,109.7 471.88,100.93 480.5,104.64" fill="#48cb86" stroke="#0a0a14" stroke-width="0.45" stroke-opacity="0.88" stroke-linejoin="round"/>
<polygon points="451.5,121.67 442.88,117.66 457.38,109.7 466,113.56" fill="#1ea7e1" stroke="#0a0a14" stroke-width="0.45" stroke-opacity="0.88" stroke-linejoin="round"/>
<polygon points="437,128.99 428.38,124.82 442.88,117.66 451.5,121.67" fill="#327cfc" stroke="#0a0a14" stroke-width="0.45" stroke-opacity="0.88" stroke-linejoin="round"/>
<polygon points="422.5,135.5 413.88,131.16 428.38,124.82 437,128.99" fill="#4850f2" stroke="#0a0a14" stroke-width="0.45" stroke-opacity="0.88" stroke-linejoin="round"/>
<polygon points="408,141.22 399.38,136.69 413.88,131.16 422.5,135.5" fill="#475af9" stroke="#0a0a14" stroke-width="0.45" stroke-opacity="0.88" stroke-linejoin="round"/>
<polygon points="393.5,146.13 384.88,141.41 399.38,136.69 408,141.22" fill="#2d8cf3" stroke="#0a0a14" stroke-width="0.45" stroke-opacity="0.88" stroke-linejoin="round"/>
<polygon points="474.62,117.52 466,113.56 480.5,104.64 489.12,108.46" fill="#52cc7e" stroke="#0a0a14" stroke-width="0.45" stroke-opacity="0.88" stroke-linejoin="round"/>
<polygon points="460.12,125.79 451.5,121.67 466,113.56 474.62,117.52" fill="#1ea7e1" stroke="#0a0a14" stroke-width="0.45" stroke-opacity="0.88" stroke-linejoin="round"/>
<polygon points="445.62,133.26 437,128.99 451.5,121.67 460.12,125.79" fill="#317dfc" stroke="#0a0a14" stroke-width="0.45" stroke-opacity="0.88" stroke-linejoin="round"/>
<polygon points="431.12,139.95 422.5,135.5 437,128.99 445.62,133.26" fill="#484cef" stroke="#0a0a14" stroke-width="0.45" stroke-opacity="0.88" stroke-linejoin="round"/>
<polygon points="416.62,145.85 408,141.22 422.5,135.5 431.12,139.95" fill="#4850f2" stroke="#0a0a14" stroke-width="0.45" stroke-opacity="0.88" stroke-linejoin="round"/>
<polygon points="402.12,150.97 393.5,146.13 408,141.22 416.62,145.85" fill="#3579fd" stroke="#0a0a14" stroke-width="0.45" stroke-opacity="0.88" stroke-linejoin="round"/>
<polygon points="483.25,121.58 474.62,117.52 489.12,108.46 497.75,112.38" fill="#59cc78" stroke="#0a0a14" stroke-width="0.45" stroke-opacity="0.88" stroke-linejoin="round"/>
<polygon points="468.75,130 460.12,125.79 474.62,117.52 483.25,121.58" fill="#1ea7e1" stroke="#0a0a14" stroke-width="0.45" stroke-opacity="0.88" stroke-linejoin="round"/>
<polygon points="454.25,137.65 445.62,133.26 460.12,125.79 468.75,130" fill="#347afd" stroke="#0a0a14" stroke-width="0.45" stroke-opacity="0.88" stroke-linejoin="round"/>
<polygon points="439.75,144.51 431.12,139.95 445.62,133.26 454.25,137.65" fill="#4745e9" stroke="#0a0a14" stroke-width="0.45" stroke-opacity="0.88" stroke-linejoin="round"/>
<polygon points="425.25,150.6 416.62,145.85 431.12,139.95 439.75,144.51" fill="#4744e8" stroke="#0a0a14" stroke-width="0.45" stroke-opacity="0.88" stroke-linejoin="round"/>
<polygon points="410.75,155.9 402.12,150.97 416.62,145.85 425.25,150.6" fill="#4464fd" stroke="#0a0a14" stroke-width="0.45" stroke-opacity="0.88" stroke-linejoin="round"/>
<polygon points="491.88,125.75 483.25,121.58 497.75,112.38 506.38,116.41" fill="#5ccc76" stroke="#0a0a14" stroke-width="0.45" stroke-opacity="0.88" stroke-linejoin="round"/>
<polygon points="477.38,134.33 468.75,130 483.25,121.58 491.88,125.75" fill="#1fa6e2" stroke="#0a0a14" stroke-width="0.45" stroke-opacity="0.88" stroke-linejoin="round"/>
<polygon points="462.88,142.13 454.25,137.65 468.75,130 477.38,134.33" fill="#3b72ff" stroke="#0a0a14" stroke-width="0.45" stroke-opacity="0.88" stroke-linejoin="round"/>
<polygon points="448.38,149.17 439.75,144.51 454.25,137.65 462.88,142.13" fill="#463cde" stroke="#0a0a14" stroke-width="0.45" stroke-opacity="0.88" stroke-linejoin="round"/>
<polygon points="433.88,155.44 425.25,150.6 439.75,144.51 448.38,149.17" fill="#4537d6" stroke="#0a0a14" stroke-width="0.45" stroke-opacity="0.88" stroke-linejoin="round"/>
<polygon points="419.38,160.95 410.75,155.9 425.25,150.6 433.88,155.44" fill="#4851f4" stroke="#0a0a14" stroke-width="0.45" stroke-opacity="0.88" stroke-linejoin="round"/>
<polygon points="500.5,130.03 491.88,125.75 506.38,116.41 515,120.55" fill="#5ecd74" stroke="#0a0a14" stroke-width="0.45" stroke-opacity="0.88" stroke-linejoin="round"/>
<polygon points="486,138.76 477.38,134.33 491.88,125.75 500.5,130.03" fill="#20a5e2" stroke="#0a0a14" stroke-width="0.45" stroke-opacity="0.88" stroke-linejoin="round"/>
<polygon points="471.5,146.73 462.88,142.13 477.38,134.33 486,138.76" fill="#416bfe" stroke="#0a0a14" stroke-width="0.45" stroke-opacity="0.88" stroke-linejoin="round"/>
<polygon points="457,153.94 448.38,149.17 462.88,142.13 471.5,146.73" fill="#4434cf" stroke="#0a0a14" stroke-width="0.45" stroke-opacity="0.88" stroke-linejoin="round"/>
<polygon points="442.5,160.4 433.88,155.44 448.38,149.17 457,153.94" fill="#412dbd" stroke="#0a0a14" stroke-width="0.45" stroke-opacity="0.88" stroke-linejoin="round"/>
<polygon points="428,166.09 419.38,160.95 433.88,155.44 442.5,160.4" fill="#473ee1" stroke="#0a0a14" stroke-width="0.45" stroke-opacity="0.88" stroke-linejoin="round"/>
<g opacity="0.45"><path d="M341.9 117.9L341.9 121.9M343.63 118.9L340.17 120.9M343.63 120.9L340.17 118.9M379 92L379 96M380.73 93L377.27 95M380.73 95L377.27 93M401.9 129.5L401.9 133.5M403.63 130.5L400.17 132.5M403.63 132.5L400.17 130.5M425.9 133.2L425.9 137.2M427.63 134.2L424.17 136.2M427.63 136.2L424.17 134.2M433.9 133.2L433.9 137.2M435.63 134.2L432.17 136.2M435.63 136.2L432.17 134.2M443.4 139L443.4 143M445.13 140L441.67 142M445.13 142L441.67 140M450.6 137.5L450.6 141.5M452.33 138.5L448.87 140.5M452.33 140.5L448.87 138.5M406.3 143.4L406.3 147.4M408.03 144.4L404.57 146.4M408.03 146.4L404.57 144.4M423 157.9L423 161.9M424.73 158.9L421.27 160.9M424.73 160.9L421.27 158.9M422.9 105.4L422.9 109.4M424.63 106.4L421.17 108.4M424.63 108.4L421.17 106.4M429.3 105.4L429.3 109.4M431.03 106.4L427.57 108.4M431.03 108.4L427.57 106.4M421.6 114.4L421.6 118.4M423.33 115.4L419.87 117.4M423.33 117.4L419.87 115.4M443.3 138.5L443.3 142.5M445.03 139.5L441.57 141.5M445.03 141.5L441.57 139.5M467.4 134.2L467.4 138.2M469.13 135.2L465.67 137.2M469.13 137.2L465.67 135.2M433.1 132.7L433.1 136.7M434.83 133.7L431.37 135.7M434.83 135.7L431.37 133.7M379.9 96.9L379.9 100.9M381.63 97.9L378.17 99.9M381.63 99.9L378.17 97.9M404.6 105.6L404.6 109.6M406.33 106.6L402.87 108.6M406.33 108.6L402.87 106.6M397.4 109.3L397.4 113.3M399.13 110.3L395.67 112.3M399.13 112.3L395.67 110.3M399.5 118.7L399.5 122.7M401.23 119.7L397.77 121.7M401.23 121.7L397.77 119.7M407.5 119.5L407.5 123.5M409.23 120.5L405.77 122.5M409.23 122.5L405.77 120.5M392.3 124.5L392.3 128.5M394.03 125.5L390.57 127.5M394.03 127.5L390.57 125.5M379.9 131.1L379.9 135.1M381.63 132.1L378.17 134.1M381.63 134.1L378.17 132.1M401 129.6L401 133.6M402.73 130.6L399.27 132.6M402.73 132.6L399.27 130.6M362.5 108.5L362.5 112.5M364.23 109.5L360.77 111.5M364.23 111.5L360.77 109.5M420.6 104.2L420.6 108.2M422.33 105.2L418.87 107.2M422.33 107.2L418.87 105.2M421.4 112.9L421.4 116.9M423.13 113.9L419.67 115.9M423.13 115.9L419.67 113.9M387.2 88.2L387.2 92.2M388.93 89.2L385.47 91.2M388.93 91.2L385.47 89.2" stroke="#2f8fd8" stroke-width="0.7" fill="none" stroke-linecap="round" opacity="0.3"/><g fill="#2f8fd8"><circle cx="341.9" cy="119.9" r="1.4"/><circle cx="379" cy="94" r="1.4"/><circle cx="401.9" cy="131.5" r="1.4"/><circle cx="425.9" cy="135.2" r="1.4"/><circle cx="433.9" cy="135.2" r="1.4"/><circle cx="443.4" cy="141" r="1.4"/><circle cx="450.6" cy="139.5" r="1.4"/><circle cx="406.3" cy="145.4" r="1.4"/><circle cx="423" cy="159.9" r="1.4"/><circle cx="422.9" cy="107.4" r="1.4"/><circle cx="429.3" cy="107.4" r="1.4"/><circle cx="421.6" cy="116.4" r="1.4"/><circle cx="443.3" cy="140.5" r="1.4"/><circle cx="467.4" cy="136.2" r="1.4"/><circle cx="433.1" cy="134.7" r="1.4"/><circle cx="379.9" cy="98.9" r="1.4"/><circle cx="404.6" cy="107.6" r="1.4"/><circle cx="397.4" cy="111.3" r="1.4"/><circle cx="399.5" cy="120.7" r="1.4"/><circle cx="407.5" cy="121.5" r="1.4"/><circle cx="392.3" cy="126.5" r="1.4"/><circle cx="379.9" cy="133.1" r="1.4"/><circle cx="401" cy="131.6" r="1.4"/><circle cx="362.5" cy="110.5" r="1.4"/><circle cx="420.6" cy="106.2" r="1.4"/><circle cx="421.4" cy="114.9" r="1.4"/><circle cx="387.2" cy="90.2" r="1.4"/></g></g>
<line x1="310" y1="59.8" x2="310" y2="139" stroke="#6e6e6e" stroke-width="0.7"/>
<line x1="310" y1="139" x2="413.5" y2="189" stroke="#6e6e6e" stroke-width="0.7"/>
<line x1="413.5" y1="189" x2="529.5" y2="145" stroke="#6e6e6e" stroke-width="0.7"/>
<line x1="310" y1="139" x2="307.8" y2="138" stroke="#6e6e6e" stroke-width="0.6"/>
<text x="303.6" y="139.8" font-size="7.42" text-anchor="end" fill="#3a3a3a" >0.5</text>
<line x1="310" y1="112.6" x2="307.8" y2="111.6" stroke="#6e6e6e" stroke-width="0.6"/>
<text x="303.6" y="113.4" font-size="7.42" text-anchor="end" fill="#3a3a3a" >1</text>
<line x1="310" y1="86.2" x2="307.8" y2="85.2" stroke="#6e6e6e" stroke-width="0.6"/>
<text x="303.6" y="87" font-size="7.42" text-anchor="end" fill="#3a3a3a" >1.5</text>
<line x1="310" y1="59.8" x2="307.8" y2="58.8" stroke="#6e6e6e" stroke-width="0.6"/>
<text x="303.6" y="60.6" font-size="7.42" text-anchor="end" fill="#3a3a3a" >2</text>
<line x1="404.88" y1="184.84" x2="402.57" y2="185.74" stroke="#6e6e6e" stroke-width="0.6"/>
<text x="397.18" y="194.84" font-size="7.42" text-anchor="middle" fill="#3a3a3a" >-5</text>
<line x1="361.75" y1="164" x2="359.45" y2="164.9" stroke="#6e6e6e" stroke-width="0.6"/>
<text x="354.05" y="174" font-size="7.42" text-anchor="middle" fill="#3a3a3a" >0</text>
<line x1="318.62" y1="143.17" x2="316.32" y2="144.07" stroke="#6e6e6e" stroke-width="0.6"/>
<text x="310.93" y="153.17" font-size="7.42" text-anchor="middle" fill="#3a3a3a" >5</text>
<line x1="413.5" y1="189" x2="414.8" y2="190.8" stroke="#6e6e6e" stroke-width="0.6"/>
<text x="420.5" y="198.4" font-size="7.42" text-anchor="middle" fill="#3a3a3a" >-4</text>
<line x1="442.5" y1="178" x2="443.8" y2="179.8" stroke="#6e6e6e" stroke-width="0.6"/>
<text x="449.5" y="187.4" font-size="7.42" text-anchor="middle" fill="#3a3a3a" >-2</text>
<line x1="471.5" y1="167" x2="472.8" y2="168.8" stroke="#6e6e6e" stroke-width="0.6"/>
<text x="478.5" y="176.4" font-size="7.42" text-anchor="middle" fill="#3a3a3a" >0</text>
<line x1="500.5" y1="156" x2="501.8" y2="157.8" stroke="#6e6e6e" stroke-width="0.6"/>
<text x="507.5" y="165.4" font-size="7.42" text-anchor="middle" fill="#3a3a3a" >2</text>
<line x1="529.5" y1="145" x2="530.8" y2="146.8" stroke="#6e6e6e" stroke-width="0.6"/>
<text x="536.5" y="154.4" font-size="7.42" text-anchor="middle" fill="#3a3a3a" >4</text>
<text x="419" y="12.5" font-size="7.42" text-anchor="middle" fill="#3a3a3a" >Tangential</text>
<text x="339.2" y="196" font-size="7.42" text-anchor="middle" fill="#3a3a3a" >Axial distance [cm]</text>
<text x="493" y="197.3" font-size="7.42" text-anchor="middle" fill="#3a3a3a" >Radial distance [cm]</text>
<text x="290" y="101.2" font-size="7.42" text-anchor="middle" fill="#3a3a3a" transform="rotate(-90 290 101.2)" >σt[mm]</text>
<polygon points="174.5,299.96 174.5,365.5 302.78,403.78 383.66,342.58 383.66,277.04 255.38,238.76" fill="#fff"/>
<g opacity="1"><path d="M186.1 341.2L186.1 345.2M187.83 342.2L184.37 344.2M187.83 344.2L184.37 342.2M190.2 340.6L190.2 344.6M191.93 341.6L188.47 343.6M191.93 343.6L188.47 341.6M192.8 334.7L192.8 338.7M194.53 335.7L191.07 337.7M194.53 337.7L191.07 335.7M197.5 330.3L197.5 334.3M199.23 331.3L195.77 333.3M199.23 333.3L195.77 331.3M199.6 339.9L199.6 343.9M201.33 340.9L197.87 342.9M201.33 342.9L197.87 340.9M201.5 339.9L201.5 343.9M203.23 340.9L199.77 342.9M203.23 342.9L199.77 340.9M204 329.3L204 333.3M205.73 330.3L202.27 332.3M205.73 332.3L202.27 330.3M206.5 324.9L206.5 328.9M208.23 325.9L204.77 327.9M208.23 327.9L204.77 325.9M207.6 335.1L207.6 339.1M209.33 336.1L205.87 338.1M209.33 338.1L205.87 336.1M211.7 338L211.7 342M213.43 339L209.97 341M213.43 341L209.97 339M210.5 316.9L210.5 320.9M212.23 317.9L208.77 319.9M212.23 319.9L208.77 317.9M214.5 319.8L214.5 323.8M216.23 320.8L212.77 322.8M216.23 322.8L212.77 320.8M220 316.5L220 320.5M221.73 317.5L218.27 319.5M221.73 319.5L218.27 317.5M218.5 333.6L218.5 337.6M220.23 334.6L216.77 336.6M220.23 336.6L216.77 334.6M223.6 310.8L223.6 314.8M225.33 311.8L221.87 313.8M225.33 313.8L221.87 311.8M226.8 307L226.8 311M228.53 308L225.07 310M228.53 310L225.07 308M229.2 336.5L229.2 340.5M230.93 337.5L227.47 339.5M230.93 339.5L227.47 337.5M243.7 344.3L243.7 348.3M245.43 345.3L241.97 347.3M245.43 347.3L241.97 345.3M254.6 352.5L254.6 356.5M256.33 353.5L252.87 355.5M256.33 355.5L252.87 353.5M259.7 348.9L259.7 352.9M261.43 349.9L257.97 351.9M261.43 351.9L257.97 349.9M237.4 297.1L237.4 301.1M239.13 298.1L235.67 300.1M239.13 300.1L235.67 298.1M240 298.1L240 302.1M241.73 299.1L238.27 301.1M241.73 301.1L238.27 299.1M246.8 293.7L246.8 297.7M248.53 294.7L245.07 296.7M248.53 296.7L245.07 294.7M250.9 290.3L250.9 294.3M252.63 291.3L249.17 293.3M252.63 293.3L249.17 291.3M268.6 275.7L268.6 279.7M270.33 276.7L266.87 278.7M270.33 278.7L266.87 276.7M271.3 275.7L271.3 279.7M273.03 276.7L269.57 278.7M273.03 278.7L269.57 276.7M281.7 273.4L281.7 277.4M283.43 274.4L279.97 276.4M283.43 276.4L279.97 274.4M286.1 273.4L286.1 277.4M287.83 274.4L284.37 276.4M287.83 276.4L284.37 274.4M356.6 293L356.6 297M358.33 294L354.87 296M358.33 296L354.87 294M367.6 300L367.6 304M369.33 301L365.87 303M369.33 303L365.87 301M378 318L378 322M379.73 319L376.27 321M379.73 321L376.27 319M345 364.4L345 368.4M346.73 365.4L343.27 367.4M346.73 367.4L343.27 365.4" stroke="#3583bf" stroke-width="0.7" fill="none" stroke-linecap="round" opacity="0.42"/><g fill="#3583bf"><circle cx="186.1" cy="343.2" r="1.4"/><circle cx="190.2" cy="342.6" r="1.4"/><circle cx="192.8" cy="336.7" r="1.4"/><circle cx="197.5" cy="332.3" r="1.4"/><circle cx="199.6" cy="341.9" r="1.4"/><circle cx="201.5" cy="341.9" r="1.4"/><circle cx="204" cy="331.3" r="1.4"/><circle cx="206.5" cy="326.9" r="1.4"/><circle cx="207.6" cy="337.1" r="1.4"/><circle cx="211.7" cy="340" r="1.4"/><circle cx="210.5" cy="318.9" r="1.4"/><circle cx="214.5" cy="321.8" r="1.4"/><circle cx="220" cy="318.5" r="1.4"/><circle cx="218.5" cy="335.6" r="1.4"/><circle cx="223.6" cy="312.8" r="1.4"/><circle cx="226.8" cy="309" r="1.4"/><circle cx="229.2" cy="338.5" r="1.4"/><circle cx="243.7" cy="346.3" r="1.4"/><circle cx="254.6" cy="354.5" r="1.4"/><circle cx="259.7" cy="350.9" r="1.4"/><circle cx="237.4" cy="299.1" r="1.4"/><circle cx="240" cy="300.1" r="1.4"/><circle cx="246.8" cy="295.7" r="1.4"/><circle cx="250.9" cy="292.3" r="1.4"/><circle cx="268.6" cy="277.7" r="1.4"/><circle cx="271.3" cy="277.7" r="1.4"/><circle cx="281.7" cy="275.4" r="1.4"/><circle cx="286.1" cy="275.4" r="1.4"/><circle cx="356.6" cy="295" r="1.4"/><circle cx="367.6" cy="302" r="1.4"/><circle cx="378" cy="320" r="1.4"/><circle cx="345" cy="366.4" r="1.4"/></g></g>
<polygon points="252.59,296.61 241.9,306.66 255.38,296.46 266.07,286.23" fill="#2a93ee" stroke="#0a0a14" stroke-width="0.45" stroke-opacity="0.88" stroke-linejoin="round"/>
<polygon points="239.11,306.98 228.42,316.86 241.9,306.66 252.59,296.61" fill="#2a93ee" stroke="#0a0a14" stroke-width="0.45" stroke-opacity="0.88" stroke-linejoin="round"/>
<polygon points="225.63,317.35 214.94,327.06 228.42,316.86 239.11,306.98" fill="#2a93ee" stroke="#0a0a14" stroke-width="0.45" stroke-opacity="0.88" stroke-linejoin="round"/>
<polygon points="212.15,327.73 201.46,337.26 214.94,327.06 225.63,317.35" fill="#2a93ee" stroke="#0a0a14" stroke-width="0.45" stroke-opacity="0.88" stroke-linejoin="round"/>
<polygon points="198.67,338.1 187.98,347.46 201.46,337.26 212.15,327.73" fill="#2a93ee" stroke="#0a0a14" stroke-width="0.45" stroke-opacity="0.88" stroke-linejoin="round"/>
<polygon points="185.19,348.48 174.5,357.66 187.98,347.46 198.67,338.1" fill="#2a93ee" stroke="#0a0a14" stroke-width="0.45" stroke-opacity="0.88" stroke-linejoin="round"/>
<polygon points="263.28,288.63 252.59,296.61 266.07,286.23 276.76,278.04" fill="#33c79d" stroke="#0a0a14" stroke-width="0.45" stroke-opacity="0.88" stroke-linejoin="round"/>
<polygon points="249.8,299.21 239.11,306.98 252.59,296.61 263.28,288.63" fill="#33c79d" stroke="#0a0a14" stroke-width="0.45" stroke-opacity="0.88" stroke-linejoin="round"/>
<polygon points="236.32,309.79 225.63,317.35 239.11,306.98 249.8,299.21" fill="#33c79d" stroke="#0a0a14" stroke-width="0.45" stroke-opacity="0.88" stroke-linejoin="round"/>
<polygon points="222.84,320.37 212.15,327.73 225.63,317.35 236.32,309.79" fill="#33c79d" stroke="#0a0a14" stroke-width="0.45" stroke-opacity="0.88" stroke-linejoin="round"/>
<polygon points="209.36,330.95 198.67,338.1 212.15,327.73 222.84,320.37" fill="#33c79d" stroke="#0a0a14" stroke-width="0.45" stroke-opacity="0.88" stroke-linejoin="round"/>
<polygon points="195.88,341.54 185.19,348.48 198.67,338.1 209.36,330.95" fill="#33c79d" stroke="#0a0a14" stroke-width="0.45" stroke-opacity="0.88" stroke-linejoin="round"/>
<polygon points="273.97,284.11 263.28,288.63 276.76,278.04 287.45,273.57" fill="#c6c22a" stroke="#0a0a14" stroke-width="0.45" stroke-opacity="0.88" stroke-linejoin="round"/>
<polygon points="260.49,294.66 249.8,299.21 263.28,288.63 273.97,284.11" fill="#c6c22a" stroke="#0a0a14" stroke-width="0.45" stroke-opacity="0.88" stroke-linejoin="round"/>
<polygon points="247.01,305.21 236.32,309.79 249.8,299.21 260.49,294.66" fill="#c6c22a" stroke="#0a0a14" stroke-width="0.45" stroke-opacity="0.88" stroke-linejoin="round"/>
<polygon points="233.53,315.75 222.84,320.37 236.32,309.79 247.01,305.21" fill="#c6c22a" stroke="#0a0a14" stroke-width="0.45" stroke-opacity="0.88" stroke-linejoin="round"/>
<polygon points="220.05,326.3 209.36,330.95 222.84,320.37 233.53,315.75" fill="#c6c22a" stroke="#0a0a14" stroke-width="0.45" stroke-opacity="0.88" stroke-linejoin="round"/>
<polygon points="206.57,336.85 195.88,341.54 209.36,330.95 220.05,326.3" fill="#c6c22a" stroke="#0a0a14" stroke-width="0.45" stroke-opacity="0.88" stroke-linejoin="round"/>
<polygon points="284.66,282.11 273.97,284.11 287.45,273.57 298.14,271.65" fill="#fdcc32" stroke="#0a0a14" stroke-width="0.45" stroke-opacity="0.88" stroke-linejoin="round"/>
<polygon points="271.18,292.57 260.49,294.66 273.97,284.11 284.66,282.11" fill="#fdcc32" stroke="#0a0a14" stroke-width="0.45" stroke-opacity="0.88" stroke-linejoin="round"/>
<polygon points="257.7,303.03 247.01,305.21 260.49,294.66 271.18,292.57" fill="#fdcc32" stroke="#0a0a14" stroke-width="0.45" stroke-opacity="0.88" stroke-linejoin="round"/>
<polygon points="244.22,313.49 233.53,315.75 247.01,305.21 257.7,303.03" fill="#fdcc32" stroke="#0a0a14" stroke-width="0.45" stroke-opacity="0.88" stroke-linejoin="round"/>
<polygon points="230.74,323.95 220.05,326.3 233.53,315.75 244.22,313.49" fill="#fdcc32" stroke="#0a0a14" stroke-width="0.45" stroke-opacity="0.88" stroke-linejoin="round"/>
<polygon points="217.26,334.41 206.57,336.85 220.05,326.3 230.74,323.95" fill="#fdcc32" stroke="#0a0a14" stroke-width="0.45" stroke-opacity="0.88" stroke-linejoin="round"/>
<polygon points="295.35,281.92 284.66,282.11 298.14,271.65 308.83,271.46" fill="#f5eb23" stroke="#0a0a14" stroke-width="0.45" stroke-opacity="0.88" stroke-linejoin="round"/>
<polygon points="281.87,292.38 271.18,292.57 284.66,282.11 295.35,281.92" fill="#f5eb23" stroke="#0a0a14" stroke-width="0.45" stroke-opacity="0.88" stroke-linejoin="round"/>
<polygon points="268.39,302.85 257.7,303.03 271.18,292.57 281.87,292.38" fill="#f5eb23" stroke="#0a0a14" stroke-width="0.45" stroke-opacity="0.88" stroke-linejoin="round"/>
<polygon points="254.91,313.31 244.22,313.49 257.7,303.03 268.39,302.85" fill="#f5eb23" stroke="#0a0a14" stroke-width="0.45" stroke-opacity="0.88" stroke-linejoin="round"/>
<polygon points="241.43,323.77 230.74,323.95 244.22,313.49 254.91,313.31" fill="#f5eb23" stroke="#0a0a14" stroke-width="0.45" stroke-opacity="0.88" stroke-linejoin="round"/>
<polygon points="227.95,334.23 217.26,334.41 230.74,323.95 241.43,323.77" fill="#f5eb23" stroke="#0a0a14" stroke-width="0.45" stroke-opacity="0.88" stroke-linejoin="round"/>
<polygon points="306.04,284.08 295.35,281.92 308.83,271.46 319.52,273.63" fill="#f7f51b" stroke="#0a0a14" stroke-width="0.45" stroke-opacity="0.88" stroke-linejoin="round"/>
<polygon points="292.56,294.52 281.87,292.38 295.35,281.92 306.04,284.08" fill="#f7f51b" stroke="#0a0a14" stroke-width="0.45" stroke-opacity="0.88" stroke-linejoin="round"/>
<polygon points="279.08,304.96 268.39,302.85 281.87,292.38 292.56,294.52" fill="#f7f51b" stroke="#0a0a14" stroke-width="0.45" stroke-opacity="0.88" stroke-linejoin="round"/>
<polygon points="265.6,315.4 254.91,313.31 268.39,302.85 279.08,304.96" fill="#f7f51b" stroke="#0a0a14" stroke-width="0.45" stroke-opacity="0.88" stroke-linejoin="round"/>
<polygon points="252.12,325.85 241.43,323.77 254.91,313.31 265.6,315.4" fill="#f7f51b" stroke="#0a0a14" stroke-width="0.45" stroke-opacity="0.88" stroke-linejoin="round"/>
<polygon points="238.64,336.29 227.95,334.23 241.43,323.77 252.12,325.85" fill="#f7f51b" stroke="#0a0a14" stroke-width="0.45" stroke-opacity="0.88" stroke-linejoin="round"/>
<polygon points="316.73,289.17 306.04,284.08 319.52,273.63 330.21,278.89" fill="#f5eb23" stroke="#0a0a14" stroke-width="0.45" stroke-opacity="0.88" stroke-linejoin="round"/>
<polygon points="303.25,299.46 292.56,294.52 306.04,284.08 316.73,289.17" fill="#f5eb23" stroke="#0a0a14" stroke-width="0.45" stroke-opacity="0.88" stroke-linejoin="round"/>
<polygon points="289.77,309.75 279.08,304.96 292.56,294.52 303.25,299.46" fill="#f5eb23" stroke="#0a0a14" stroke-width="0.45" stroke-opacity="0.88" stroke-linejoin="round"/>
<polygon points="276.29,320.03 265.6,315.4 279.08,304.96 289.77,309.75" fill="#f5eb23" stroke="#0a0a14" stroke-width="0.45" stroke-opacity="0.88" stroke-linejoin="round"/>
<polygon points="262.81,330.32 252.12,325.85 265.6,315.4 276.29,320.03" fill="#f5eb23" stroke="#0a0a14" stroke-width="0.45" stroke-opacity="0.88" stroke-linejoin="round"/>
<polygon points="249.33,340.61 238.64,336.29 252.12,325.85 262.81,330.32" fill="#f5eb23" stroke="#0a0a14" stroke-width="0.45" stroke-opacity="0.88" stroke-linejoin="round"/>
<polygon points="327.42,297.21 316.73,289.17 330.21,278.89 340.9,287.22" fill="#fdcc32" stroke="#0a0a14" stroke-width="0.45" stroke-opacity="0.88" stroke-linejoin="round"/>
<polygon points="313.94,307.21 303.25,299.46 316.73,289.17 327.42,297.21" fill="#fdcc32" stroke="#0a0a14" stroke-width="0.45" stroke-opacity="0.88" stroke-linejoin="round"/>
<polygon points="300.46,317.2 289.77,309.75 303.25,299.46 313.94,307.21" fill="#fdcc32" stroke="#0a0a14" stroke-width="0.45" stroke-opacity="0.88" stroke-linejoin="round"/>
<polygon points="286.98,327.19 276.29,320.03 289.77,309.75 300.46,317.2" fill="#fdcc32" stroke="#0a0a14" stroke-width="0.45" stroke-opacity="0.88" stroke-linejoin="round"/>
<polygon points="273.5,337.18 262.81,330.32 276.29,320.03 286.98,327.19" fill="#fdcc32" stroke="#0a0a14" stroke-width="0.45" stroke-opacity="0.88" stroke-linejoin="round"/>
<polygon points="260.02,347.17 249.33,340.61 262.81,330.32 273.5,337.18" fill="#fdcc32" stroke="#0a0a14" stroke-width="0.45" stroke-opacity="0.88" stroke-linejoin="round"/>
<polygon points="338.11,306.55 327.42,297.21 340.9,287.22 351.59,296.67" fill="#c6c22a" stroke="#0a0a14" stroke-width="0.45" stroke-opacity="0.88" stroke-linejoin="round"/>
<polygon points="324.63,316.44 313.94,307.21 327.42,297.21 338.11,306.55" fill="#c6c22a" stroke="#0a0a14" stroke-width="0.45" stroke-opacity="0.88" stroke-linejoin="round"/>
<polygon points="311.15,326.33 300.46,317.2 313.94,307.21 324.63,316.44" fill="#c6c22a" stroke="#0a0a14" stroke-width="0.45" stroke-opacity="0.88" stroke-linejoin="round"/>
<polygon points="297.67,336.21 286.98,327.19 300.46,317.2 311.15,326.33" fill="#c6c22a" stroke="#0a0a14" stroke-width="0.45" stroke-opacity="0.88" stroke-linejoin="round"/>
<polygon points="284.19,346.1 273.5,337.18 286.98,327.19 297.67,336.21" fill="#c6c22a" stroke="#0a0a14" stroke-width="0.45" stroke-opacity="0.88" stroke-linejoin="round"/>
<polygon points="270.71,355.99 260.02,347.17 273.5,337.18 284.19,346.1" fill="#c6c22a" stroke="#0a0a14" stroke-width="0.45" stroke-opacity="0.88" stroke-linejoin="round"/>
<polygon points="348.8,317.53 338.11,306.55 351.59,296.67 362.28,307.63" fill="#33c79d" stroke="#0a0a14" stroke-width="0.45" stroke-opacity="0.88" stroke-linejoin="round"/>
<polygon points="335.32,327.44 324.63,316.44 338.11,306.55 348.8,317.53" fill="#33c79d" stroke="#0a0a14" stroke-width="0.45" stroke-opacity="0.88" stroke-linejoin="round"/>
<polygon points="321.84,337.34 311.15,326.33 324.63,316.44 335.32,327.44" fill="#33c79d" stroke="#0a0a14" stroke-width="0.45" stroke-opacity="0.88" stroke-linejoin="round"/>
<polygon points="308.36,347.25 297.67,336.21 311.15,326.33 321.84,337.34" fill="#33c79d" stroke="#0a0a14" stroke-width="0.45" stroke-opacity="0.88" stroke-linejoin="round"/>
<polygon points="294.88,357.15 284.19,346.1 297.67,336.21 308.36,347.25" fill="#33c79d" stroke="#0a0a14" stroke-width="0.45" stroke-opacity="0.88" stroke-linejoin="round"/>
<polygon points="281.4,367.06 270.71,355.99 284.19,346.1 294.88,357.15" fill="#33c79d" stroke="#0a0a14" stroke-width="0.45" stroke-opacity="0.88" stroke-linejoin="round"/>
<polygon points="359.49,330.42 348.8,317.53 362.28,307.63 372.97,320.43" fill="#2a93ee" stroke="#0a0a14" stroke-width="0.45" stroke-opacity="0.88" stroke-linejoin="round"/>
<polygon points="346.01,340.41 335.32,327.44 348.8,317.53 359.49,330.42" fill="#2a93ee" stroke="#0a0a14" stroke-width="0.45" stroke-opacity="0.88" stroke-linejoin="round"/>
<polygon points="332.53,350.4 321.84,337.34 335.32,327.44 346.01,340.41" fill="#2a93ee" stroke="#0a0a14" stroke-width="0.45" stroke-opacity="0.88" stroke-linejoin="round"/>
<polygon points="319.05,360.39 308.36,347.25 321.84,337.34 332.53,350.4" fill="#2a93ee" stroke="#0a0a14" stroke-width="0.45" stroke-opacity="0.88" stroke-linejoin="round"/>
<polygon points="305.57,370.38 294.88,357.15 308.36,347.25 319.05,360.39" fill="#2a93ee" stroke="#0a0a14" stroke-width="0.45" stroke-opacity="0.88" stroke-linejoin="round"/>
<polygon points="292.09,380.38 281.4,367.06 294.88,357.15 305.57,370.38" fill="#2a93ee" stroke="#0a0a14" stroke-width="0.45" stroke-opacity="0.88" stroke-linejoin="round"/>
<polygon points="370.18,344.51 359.49,330.42 372.97,320.43 383.66,334.22" fill="#422ebe" stroke="#0a0a14" stroke-width="0.45" stroke-opacity="0.88" stroke-linejoin="round"/>
<polygon points="356.7,354.8 346.01,340.41 359.49,330.42 370.18,344.51" fill="#422ebe" stroke="#0a0a14" stroke-width="0.45" stroke-opacity="0.88" stroke-linejoin="round"/>
<polygon points="343.22,365.08 332.53,350.4 346.01,340.41 356.7,354.8" fill="#422ebe" stroke="#0a0a14" stroke-width="0.45" stroke-opacity="0.88" stroke-linejoin="round"/>
<polygon points="329.74,375.37 319.05,360.39 332.53,350.4 343.22,365.08" fill="#422ebe" stroke="#0a0a14" stroke-width="0.45" stroke-opacity="0.88" stroke-linejoin="round"/>
<polygon points="316.26,385.66 305.57,370.38 319.05,360.39 329.74,375.37" fill="#422ebe" stroke="#0a0a14" stroke-width="0.45" stroke-opacity="0.88" stroke-linejoin="round"/>
<polygon points="302.78,395.94 292.09,380.38 305.57,370.38 316.26,385.66" fill="#422ebe" stroke="#0a0a14" stroke-width="0.45" stroke-opacity="0.88" stroke-linejoin="round"/>
<polyline points="255.38,296.46 266.07,286.23 276.76,278.04 287.45,273.57 298.14,271.65" fill="none" stroke="#1c3428" stroke-width="0.9" opacity="0.85" stroke-linejoin="round"/>
<polyline points="298.14,271.65 308.83,271.46 319.52,273.63" fill="none" stroke="#1c3428" stroke-width="0.5" opacity="0.6" stroke-linejoin="round"/>
<g opacity="0.85"><path d="M222.5 328.5L222.5 332.5M224.23 329.5L220.77 331.5M224.23 331.5L220.77 329.5M225.4 320.5L225.4 324.5M227.13 321.5L223.67 323.5M227.13 323.5L223.67 321.5M233.1 328.8L233.1 332.8M234.83 329.8L231.37 331.8M234.83 331.8L231.37 329.8M238.2 312.3L238.2 316.3M239.93 313.3L236.47 315.3M239.93 315.3L236.47 313.3M239.9 324.6L239.9 328.6M241.63 325.6L238.17 327.6M241.63 327.6L238.17 325.6M245 304.5L245 308.5M246.73 305.5L243.27 307.5M246.73 307.5L243.27 305.5M246.6 318.7L246.6 322.7M248.33 319.7L244.87 321.7M248.33 321.7L244.87 319.7M253.5 311.1L253.5 315.1M255.23 312.1L251.77 314.1M255.23 314.1L251.77 312.1M259.9 300.7L259.9 304.7M261.63 301.7L258.17 303.7M261.63 303.7L258.17 301.7M267.2 300.7L267.2 304.7M268.93 301.7L265.47 303.7M268.93 303.7L265.47 301.7M273.7 296.4L273.7 300.4M275.43 297.4L271.97 299.4M275.43 299.4L271.97 297.4M277.4 302.2L277.4 306.2M279.13 303.2L275.67 305.2M279.13 305.2L275.67 303.2M264.3 315L264.3 319M266.03 316L262.57 318M266.03 318L262.57 316M270.8 314.5L270.8 318.5M272.53 315.5L269.07 317.5M272.53 317.5L269.07 315.5M272.3 284L272.3 288M274.03 285L270.57 287M274.03 287L270.57 285M280.3 287.6L280.3 291.6M282.03 288.6L278.57 290.6M282.03 290.6L278.57 288.6M284.3 292.3L284.3 296.3M286.03 293.3L282.57 295.3M286.03 295.3L282.57 293.3M291.2 294.9L291.2 298.9M292.93 295.9L289.47 297.9M292.93 297.9L289.47 295.9M287.5 277.5L287.5 281.5M289.23 278.5L285.77 280.5M289.23 280.5L285.77 278.5M293.7 277.7L293.7 281.7M295.43 278.7L291.97 280.7M295.43 280.7L291.97 278.7M300.6 277.2L300.6 281.2M302.33 278.2L298.87 280.2M302.33 280.2L298.87 278.2M297.7 290.5L297.7 294.5M299.43 291.5L295.97 293.5M299.43 293.5L295.97 291.5M304.7 282.5L304.7 286.5M306.43 283.5L302.97 285.5M306.43 285.5L302.97 283.5M299.2 319.6L299.2 323.6M300.93 320.6L297.47 322.6M300.93 322.6L297.47 320.6M311 279L311 283M312.73 280L309.27 282M312.73 282L309.27 280M332.4 292L332.4 296M334.13 293L330.67 295M334.13 295L330.67 293M339 290L339 294M340.73 291L337.27 293M340.73 293L337.27 291M343 296L343 300M344.73 297L341.27 299M344.73 299L341.27 297M336.4 301L336.4 305M338.13 302L334.67 304M338.13 304L334.67 302M329.6 304.4L329.6 308.4M331.33 305.4L327.87 307.4M331.33 307.4L327.87 305.4M319 300L319 304M320.73 301L317.27 303M320.73 303L317.27 301M312.4 302L312.4 306M314.13 303L310.67 305M314.13 305L310.67 303M305 311.6L305 315.6M306.73 312.6L303.27 314.6M306.73 314.6L303.27 312.6M292.4 323.6L292.4 327.6M294.13 324.6L290.67 326.6M294.13 326.6L290.67 324.6M302.4 327.6L302.4 331.6M304.13 328.6L300.67 330.6M304.13 330.6L300.67 328.6M309.4 330.4L309.4 334.4M311.13 331.4L307.67 333.4M311.13 333.4L307.67 331.4M323 319L323 323M324.73 320L321.27 322M324.73 322L321.27 320M347 322.4L347 326.4M348.73 323.4L345.27 325.4M348.73 325.4L345.27 323.4M371 323.6L371 327.6M372.73 324.6L369.27 326.6M372.73 326.6L369.27 324.6M290 341L290 345M291.73 342L288.27 344M291.73 344L288.27 342M266 347L266 351M267.73 348L264.27 350M267.73 350L264.27 348M272 333.6L272 337.6M273.73 334.6L270.27 336.6M273.73 336.6L270.27 334.6M286 324L286 328M287.73 325L284.27 327M287.73 327L284.27 325M282.4 349.4L282.4 353.4M284.13 350.4L280.67 352.4M284.13 352.4L280.67 350.4M276 350L276 354M277.73 351L274.27 353M277.73 353L274.27 351M287 366.6L287 370.6M288.73 367.6L285.27 369.6M288.73 369.6L285.27 367.6M294 368.6L294 372.6M295.73 369.6L292.27 371.6M295.73 371.6L292.27 369.6M304 377.6L304 381.6M305.73 378.6L302.27 380.6M305.73 380.6L302.27 378.6M297 382L297 386M298.73 383L295.27 385M298.73 385L295.27 383M331 354.4L331 358.4M332.73 355.4L329.27 357.4M332.73 357.4L329.27 355.4" stroke="#3583bf" stroke-width="0.7" fill="none" stroke-linecap="round" opacity="0.4"/><g fill="#3583bf"><circle cx="222.5" cy="330.5" r="1.4"/><circle cx="225.4" cy="322.5" r="1.4"/><circle cx="233.1" cy="330.8" r="1.4"/><circle cx="238.2" cy="314.3" r="1.4"/><circle cx="239.9" cy="326.6" r="1.4"/><circle cx="245" cy="306.5" r="1.4"/><circle cx="246.6" cy="320.7" r="1.4"/><circle cx="253.5" cy="313.1" r="1.4"/><circle cx="259.9" cy="302.7" r="1.4"/><circle cx="267.2" cy="302.7" r="1.4"/><circle cx="273.7" cy="298.4" r="1.4"/><circle cx="277.4" cy="304.2" r="1.4"/><circle cx="264.3" cy="317" r="1.4"/><circle cx="270.8" cy="316.5" r="1.4"/><circle cx="272.3" cy="286" r="1.4"/><circle cx="280.3" cy="289.6" r="1.4"/><circle cx="284.3" cy="294.3" r="1.4"/><circle cx="291.2" cy="296.9" r="1.4"/><circle cx="287.5" cy="279.5" r="1.4"/><circle cx="293.7" cy="279.7" r="1.4"/><circle cx="300.6" cy="279.2" r="1.4"/><circle cx="297.7" cy="292.5" r="1.4"/><circle cx="304.7" cy="284.5" r="1.4"/><circle cx="299.2" cy="321.6" r="1.4"/><circle cx="311" cy="281" r="1.4"/><circle cx="332.4" cy="294" r="1.4"/><circle cx="339" cy="292" r="1.4"/><circle cx="343" cy="298" r="1.4"/><circle cx="336.4" cy="303" r="1.4"/><circle cx="329.6" cy="306.4" r="1.4"/><circle cx="319" cy="302" r="1.4"/><circle cx="312.4" cy="304" r="1.4"/><circle cx="305" cy="313.6" r="1.4"/><circle cx="292.4" cy="325.6" r="1.4"/><circle cx="302.4" cy="329.6" r="1.4"/><circle cx="309.4" cy="332.4" r="1.4"/><circle cx="323" cy="321" r="1.4"/><circle cx="347" cy="324.4" r="1.4"/><circle cx="371" cy="325.6" r="1.4"/><circle cx="290" cy="343" r="1.4"/><circle cx="266" cy="349" r="1.4"/><circle cx="272" cy="335.6" r="1.4"/><circle cx="286" cy="326" r="1.4"/><circle cx="282.4" cy="351.4" r="1.4"/><circle cx="276" cy="352" r="1.4"/><circle cx="287" cy="368.6" r="1.4"/><circle cx="294" cy="370.6" r="1.4"/><circle cx="304" cy="379.6" r="1.4"/><circle cx="297" cy="384" r="1.4"/><circle cx="331" cy="356.4" r="1.4"/></g></g>
<line x1="174.5" y1="299.96" x2="174.5" y2="365.5" stroke="#6e6e6e" stroke-width="0.7"/>
<line x1="174.5" y1="365.5" x2="302.78" y2="403.78" stroke="#6e6e6e" stroke-width="0.7"/>
<line x1="302.78" y1="403.78" x2="383.66" y2="342.58" stroke="#6e6e6e" stroke-width="0.7"/>
<line x1="174.5" y1="362.48" x2="172.1" y2="362.18" stroke="#6e6e6e" stroke-width="0.6"/>
<text x="170" y="364.68" font-size="7.15" text-anchor="end" fill="#3a3a3a" >0.6</text>
<line x1="174.5" y1="341.64" x2="172.1" y2="341.34" stroke="#6e6e6e" stroke-width="0.6"/>
<text x="170" y="343.84" font-size="7.15" text-anchor="end" fill="#3a3a3a" >0.8</text>
<line x1="174.5" y1="320.8" x2="172.1" y2="320.5" stroke="#6e6e6e" stroke-width="0.6"/>
<text x="170" y="323" font-size="7.15" text-anchor="end" fill="#3a3a3a" >1</text>
<line x1="174.5" y1="299.96" x2="172.1" y2="299.66" stroke="#6e6e6e" stroke-width="0.6"/>
<text x="170" y="302.16" font-size="7.15" text-anchor="end" fill="#3a3a3a" >1.2</text>
<line x1="302.78" y1="403.78" x2="301.18" y2="405.38" stroke="#6e6e6e" stroke-width="0.6"/>
<text x="296.28" y="414.28" font-size="7.15" text-anchor="middle" fill="#3a3a3a" >-6</text>
<line x1="281.4" y1="397.4" x2="279.8" y2="399" stroke="#6e6e6e" stroke-width="0.6"/>
<text x="274.9" y="407.9" font-size="7.15" text-anchor="middle" fill="#3a3a3a" >-4</text>
<line x1="260.02" y1="391.02" x2="258.42" y2="392.62" stroke="#6e6e6e" stroke-width="0.6"/>
<text x="253.52" y="401.52" font-size="7.15" text-anchor="middle" fill="#3a3a3a" >-2</text>
<line x1="238.64" y1="384.64" x2="237.04" y2="386.24" stroke="#6e6e6e" stroke-width="0.6"/>
<text x="232.14" y="395.14" font-size="7.15" text-anchor="middle" fill="#3a3a3a" >0</text>
<line x1="217.26" y1="378.26" x2="215.66" y2="379.86" stroke="#6e6e6e" stroke-width="0.6"/>
<text x="210.76" y="388.76" font-size="7.15" text-anchor="middle" fill="#3a3a3a" >2</text>
<line x1="195.88" y1="371.88" x2="194.28" y2="373.48" stroke="#6e6e6e" stroke-width="0.6"/>
<text x="189.38" y="382.38" font-size="7.15" text-anchor="middle" fill="#3a3a3a" >4</text>
<line x1="174.5" y1="365.5" x2="172.9" y2="367.1" stroke="#6e6e6e" stroke-width="0.6"/>
<text x="168" y="376" font-size="7.15" text-anchor="middle" fill="#3a3a3a" >6</text>
<line x1="302.78" y1="403.78" x2="304.98" y2="404.78" stroke="#6e6e6e" stroke-width="0.6"/>
<text x="310.78" y="412.18" font-size="7.15" text-anchor="middle" fill="#3a3a3a" >-3</text>
<line x1="316.26" y1="393.58" x2="318.46" y2="394.58" stroke="#6e6e6e" stroke-width="0.6"/>
<text x="324.26" y="401.98" font-size="7.15" text-anchor="middle" fill="#3a3a3a" >-2</text>
<line x1="329.74" y1="383.38" x2="331.94" y2="384.38" stroke="#6e6e6e" stroke-width="0.6"/>
<text x="337.74" y="391.78" font-size="7.15" text-anchor="middle" fill="#3a3a3a" >-1</text>
<line x1="343.22" y1="373.18" x2="345.42" y2="374.18" stroke="#6e6e6e" stroke-width="0.6"/>
<text x="351.22" y="381.58" font-size="7.15" text-anchor="middle" fill="#3a3a3a" >0</text>
<line x1="356.7" y1="362.98" x2="358.9" y2="363.98" stroke="#6e6e6e" stroke-width="0.6"/>
<text x="364.7" y="371.38" font-size="7.15" text-anchor="middle" fill="#3a3a3a" >1</text>
<line x1="370.18" y1="352.78" x2="372.38" y2="353.78" stroke="#6e6e6e" stroke-width="0.6"/>
<text x="378.18" y="361.18" font-size="7.15" text-anchor="middle" fill="#3a3a3a" >2</text>
<line x1="383.66" y1="342.58" x2="385.86" y2="343.58" stroke="#6e6e6e" stroke-width="0.6"/>
<text x="391.66" y="350.98" font-size="7.15" text-anchor="middle" fill="#3a3a3a" >3</text>
<text x="279.4" y="236.2" font-size="7.15" text-anchor="middle" fill="#3a3a3a" >Axial</text>
<text x="224.4" y="412.5" font-size="7.15" text-anchor="middle" fill="#3a3a3a" >Axial distance [cm]</text>
<text x="372" y="407" font-size="7.15" text-anchor="middle" fill="#3a3a3a" >Radial distance [cm]</text>
<text x="155" y="332" font-size="7.15" text-anchor="middle" fill="#3a3a3a" transform="rotate(-90 155 332)" >σa[mm]</text>
</g>
<text x="133.5" y="222" font-size="15.5" text-anchor="middle" fill="#000" font-family="Liberation Serif, serif">(<tspan font-weight="bold">a</tspan>)</text>
<text x="413.2" y="221.8" font-size="15.5" text-anchor="middle" fill="#000" font-family="Liberation Serif, serif">(<tspan font-weight="bold">b</tspan>)</text>
<text x="275.8" y="437.5" font-size="15.5" text-anchor="middle" fill="#000" font-family="Liberation Serif, serif">(<tspan font-weight="bold">c</tspan>)</text>
</svg>
</body></html>
